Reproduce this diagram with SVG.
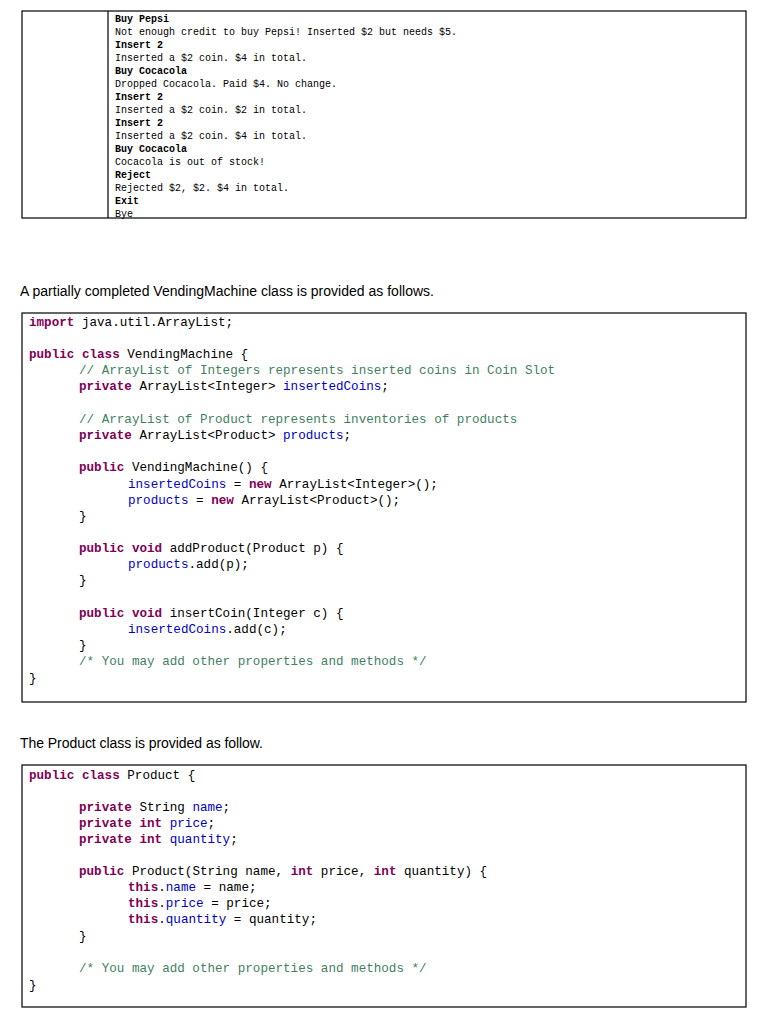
<svg xmlns="http://www.w3.org/2000/svg" width="768" height="1024" viewBox="0 0 768 1024">
<style>
.t{font-family:"Liberation Mono",monospace;font-size:10px;fill:#000}
.b{font-weight:bold}
.c{font-family:"Liberation Mono",monospace;font-size:12.6px;fill:#000;white-space:pre}
.k{fill:#7f0055;font-weight:bold}
.f{fill:#0000c0}
.g{fill:#3f7f5f}
.p{font-family:"Liberation Sans",Arial,sans-serif;font-size:14px;fill:#000}
.box{fill:none;stroke:#000;stroke-width:1.2}
</style>
<rect width="768" height="1024" fill="#fff"/>
<g id="output-table">
<rect class="box" x="22" y="11" width="724" height="207"/>
<line x1="108" y1="11" x2="108" y2="218" stroke="#000" stroke-width="1.2"/>
<text class="t b" x="115" y="22">Buy Pepsi</text>
<text class="t" x="115" y="35">Not enough credit to buy Pepsi! Inserted $2 but needs $5.</text>
<text class="t b" x="115" y="48">Insert 2</text>
<text class="t" x="115" y="61">Inserted a $2 coin. $4 in total.</text>
<text class="t b" x="115" y="74">Buy Cocacola</text>
<text class="t" x="115" y="87">Dropped Cocacola. Paid $4. No change.</text>
<text class="t b" x="115" y="100">Insert 2</text>
<text class="t" x="115" y="113">Inserted a $2 coin. $2 in total.</text>
<text class="t b" x="115" y="126">Insert 2</text>
<text class="t" x="115" y="139">Inserted a $2 coin. $4 in total.</text>
<text class="t b" x="115" y="152">Buy Cocacola</text>
<text class="t" x="115" y="165">Cocacola is out of stock!</text>
<text class="t b" x="115" y="178">Reject</text>
<text class="t" x="115" y="191">Rejected $2, $2. $4 in total.</text>
<text class="t b" x="115" y="204">Exit</text>
<text class="t" x="115" y="217">Bye</text>
</g>
<text class="p" x="20" y="296" textLength="414">A partially completed VendingMachine class is provided as follows.</text>
<g id="vending-code">
<rect class="box" x="22" y="313" width="724" height="389"/>
<text class="c" x="29" y="326"><tspan class="k">import</tspan> java.util.ArrayList;</text>
<text class="c" x="29" y="358"><tspan class="k">public class</tspan> VendingMachine {</text>
<text class="c g" x="79" y="374">// ArrayList of Integers represents inserted coins in Coin Slot</text>
<text class="c" x="79" y="390"><tspan class="k">private</tspan> ArrayList&lt;Integer&gt; <tspan class="f">insertedCoins</tspan>;</text>
<text class="c g" x="79" y="423">// ArrayList of Product represents inventories of products</text>
<text class="c" x="79" y="439"><tspan class="k">private</tspan> ArrayList&lt;Product&gt; <tspan class="f">products</tspan>;</text>
<text class="c" x="79" y="471"><tspan class="k">public</tspan> VendingMachine() {</text>
<text class="c" x="128" y="488"><tspan class="f">insertedCoins</tspan> = <tspan class="k">new</tspan> ArrayList&lt;Integer&gt;();</text>
<text class="c" x="128" y="504"><tspan class="f">products</tspan> = <tspan class="k">new</tspan> ArrayList&lt;Product&gt;();</text>
<text class="c" x="79" y="520">}</text>
<text class="c" x="79" y="552"><tspan class="k">public void</tspan> addProduct(Product p) {</text>
<text class="c" x="128" y="568"><tspan class="f">products</tspan>.add(p);</text>
<text class="c" x="79" y="584">}</text>
<text class="c" x="79" y="617"><tspan class="k">public void</tspan> insertCoin(Integer c) {</text>
<text class="c" x="128" y="633"><tspan class="f">insertedCoins</tspan>.add(c);</text>
<text class="c" x="79" y="649">}</text>
<text class="c g" x="79" y="665">/* You may add other properties and methods */</text>
<text class="c" x="29" y="682">}</text>
</g>
<text class="p" x="20" y="748" textLength="243">The Product class is provided as follow.</text>
<g id="product-code">
<rect class="box" x="22" y="765" width="724" height="242"/>
<text class="c" x="29" y="779"><tspan class="k">public class</tspan> Product {</text>
<text class="c" x="79" y="811"><tspan class="k">private</tspan> String <tspan class="f">name</tspan>;</text>
<text class="c" x="79" y="827"><tspan class="k">private int</tspan> <tspan class="f">price</tspan>;</text>
<text class="c" x="79" y="843"><tspan class="k">private int</tspan> <tspan class="f">quantity</tspan>;</text>
<text class="c" x="79" y="875"><tspan class="k">public</tspan> Product(String name, <tspan class="k">int</tspan> price, <tspan class="k">int</tspan> quantity) {</text>
<text class="c" x="128" y="891"><tspan class="k">this</tspan>.<tspan class="f">name</tspan> = name;</text>
<text class="c" x="128" y="907"><tspan class="k">this</tspan>.<tspan class="f">price</tspan> = price;</text>
<text class="c" x="128" y="923"><tspan class="k">this</tspan>.<tspan class="f">quantity</tspan> = quantity;</text>
<text class="c" x="79" y="940">}</text>
<text class="c g" x="79" y="972">/* You may add other properties and methods */</text>
<text class="c" x="29" y="989">}</text>
</g>
</svg>
